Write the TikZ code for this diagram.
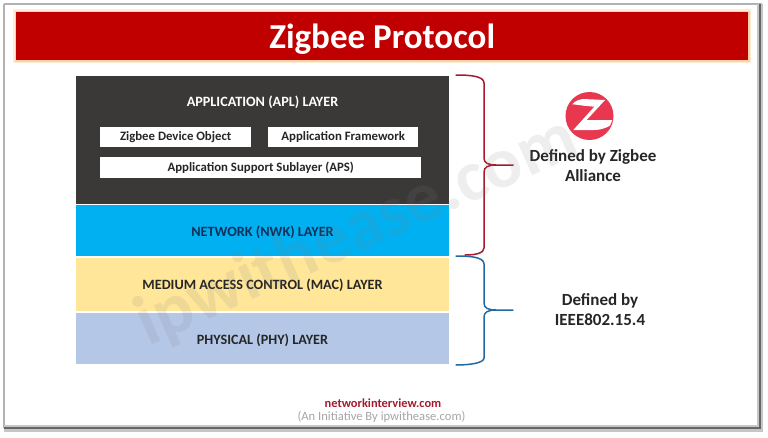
\documentclass[tikz,border=0pt]{standalone}
\usepackage{fontspec}
\setmainfont{Carlito}
\definecolor{barred}{HTML}{C00000}
\definecolor{darkl}{HTML}{3B3838}
\definecolor{bluel}{HTML}{00B0F0}
\definecolor{yell}{HTML}{FFE699}
\definecolor{bluep}{HTML}{B4C7E7}
\definecolor{bracered}{HTML}{A6192E}
\definecolor{braceblue}{HTML}{1F6AA5}
\definecolor{zig}{HTML}{E8384F}
\definecolor{navytext}{HTML}{12305A}
\tikzset{
 x=1pt,y=-1pt,
 layer/.style={minimum width=373pt,anchor=north west,inner sep=0pt,outer sep=0pt},
 whitebox/.style={fill=white,draw=none,inner sep=0pt,anchor=north west,font=\bfseries\fontsize{12.8}{15}\selectfont,text=black!85},
 lab/.style={font=\bfseries\fontsize{14.2}{16}\selectfont,text=black!85},
 side/.style={font=\bfseries\fontsize{17}{20}\selectfont,text=black!85,align=center},
 bracestyle/.style={line width=1.5pt,line cap=round,line join=round},
}
\begin{document}
\begin{tikzpicture}
\useasboundingbox (0,0) rectangle (768,437);
\fill[white] (0,0) rectangle (768,437);
% frame
\draw[gray!60,line width=1.5pt] (4,4) -- (762,4);
\draw[gray!60,line width=1.5pt] (4,4) -- (4,428);
\draw[gray!45,line width=6pt] (760,4) -- (760,429);
\draw[gray!45,line width=7pt] (4,428.5) -- (763,428.5);
\draw[black!60,line width=2pt] (760,4) -- (760,428);
\draw[black!60,line width=2pt] (4,428) -- (761,428);
% title
\fill[orange!15] (13,9) rectangle (751,63);
\fill[orange!35] (14.5,10.5) rectangle (749.5,61.5);
\node[fill=barred,minimum width=732pt,minimum height=48pt,inner sep=0pt,anchor=north west,text=white,text depth=0pt,font=\bfseries\fontsize{35}{38}\selectfont] (title) at (16,12) {Zigbee Protocol};
% layers
\node[layer,fill=darkl,minimum height=128pt] (apl) at (76,76) {};
\node[layer,fill=bluel,minimum height=51pt] (nwk) at (76,205) {};
\node[layer,fill=yell,minimum height=53pt] (mac) at (76,258) {};
\node[layer,fill=bluep,minimum height=51pt] (phy) at (76,313) {};
\node[lab,text=white] (apltext) at (262.5,102.5) {APPLICATION (APL) LAYER};
\node[whitebox,minimum width=151pt,minimum height=20pt] (zdo) at (100,127) {Zigbee Device Object};
\node[whitebox,minimum width=150pt,minimum height=20pt] (af) at (268,127) {Application Framework};
\node[whitebox,minimum width=321pt,minimum height=21pt] (aps) at (100,157) {Application Support Sublayer (APS)};
\node[lab,text=navytext] (nwktext) at (262.5,232) {NETWORK (NWK) LAYER};
\node[lab] (mactext) at (262.5,285) {MEDIUM ACCESS CONTROL (MAC) LAYER};
\node[lab] (phytext) at (262.5,340) {PHYSICAL (PHY) LAYER};
% braces
\draw[bracered,bracestyle] (456,75) .. controls (470,75) and (484,76) .. (484,83)
 -- (484,158) .. controls (484,163) and (488,165) .. (496,165) -- (513,165)
 -- (496,165) .. controls (488,165) and (484,167) .. (484,172)
 -- (484,248) .. controls (484,253) and (476,255) .. (465,255);
\draw[braceblue,bracestyle] (456,256) .. controls (470,256) and (484,257) .. (484,264)
 -- (484,303) .. controls (484,308) and (488,310) .. (496,310) -- (513,310)
 -- (496,310) .. controls (488,310) and (484,312) .. (484,317)
 -- (484,358) .. controls (484,363) and (470,365) .. (456,365);
% logo
\fill[zig] (589.5,116) circle (24);
\fill[white] (572.3,104.3) .. controls (575,101) and (579,99.5) .. (583.3,99) -- (605,100)
 -- (586.7,120) -- (612.3,120) -- (610,125.7) .. controls (606,128) and (600,130) .. (595,130)
 -- (573.3,130) -- (594.3,106.7) -- (583.3,105.7) .. controls (579,105) and (575,104.5) .. (572.3,104.3) -- cycle;
\node[side] (zigtext) at (593,166) {Defined by Zigbee\\Alliance};
\node[side] (ieeetext) at (600,310) {Defined by\\IEEE802.15.4};
% footer
\node[font=\bfseries\fontsize{12.4}{14}\selectfont,text=bracered] (site) at (383,403) {networkinterview.com};
\node[font=\fontsize{12.6}{14}\selectfont,text=gray!70] (init) at (381.5,417) {(An Initiative By ipwithease.com)};
% watermark
\node[font=\bfseries\fontsize{72}{78}\selectfont,text=gray,opacity=0.13,rotate=24] (wm) at (357,232) {ipwithease.com};
\end{tikzpicture}
\end{document}
